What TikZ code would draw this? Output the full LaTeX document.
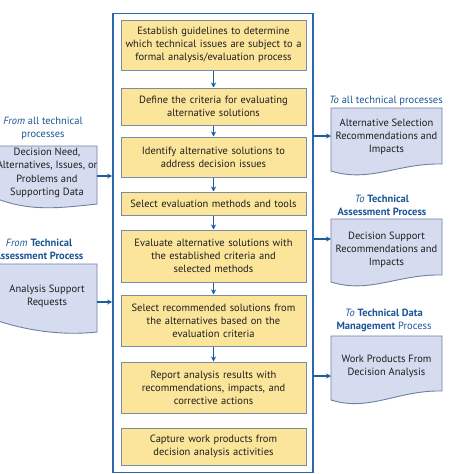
\documentclass[tikz,border=0pt]{standalone}
\usepackage{fontspec}
\setmainfont{PT Sans}
\usetikzlibrary{arrows.meta}
\definecolor{frameblue}{HTML}{2A67AC}
\definecolor{arrowblue}{HTML}{1F5C9E}
\definecolor{labelblue}{HTML}{1D5596}
\definecolor{boxfill}{HTML}{FBE59B}
\definecolor{boxline}{HTML}{7E8CA3}
\definecolor{docfill}{HTML}{D5DCF0}
\definecolor{docline}{HTML}{6F7FA6}
\definecolor{txt}{HTML}{1E1E1E}
\tikzset{
  stepbox/.style={draw=boxline, line width=1pt, fill=boxfill, minimum width=185pt,
    text width=183pt, align=center, inner sep=0pt, font=\fontsize{10.5}{13}\selectfont, text=txt},
  docnode/.style={inner sep=0pt, align=center, font=\fontsize{10.5}{13.3}\selectfont, text=txt},
  doclabel/.style={align=center, font=\fontsize{10.5}{13}\selectfont, text=labelblue},
  docbody/.style={fill=docfill, draw=docline, line width=0.9pt},
  arr/.style={draw=arrowblue, line width=1.1pt, -{Stealth[length=5pt,width=5pt]}},
}
% right-hand document: x0, x1, top, yleft, yright
\newcommand{\rdoc}[5]{%
  \filldraw[docbody]
    (#1,#3) -- (#2,#3) -- (#2,#5)
    .. controls ({#2-0.4*(#2-#1)},{#5-1}) and ({#1+0.35*(#2-#1)},{#4+12}) .. (#1,#4) -- cycle;}
\begin{document}
\begin{tikzpicture}[x=1pt,y=-1pt]
\useasboundingbox (0,0) rectangle (474,474);
\clip (0,0) rectangle (474,474);
\fill[white] (0,0) rectangle (474,474);
% outer frame
\node[draw=frameblue, line width=1.6pt, minimum width=200pt, minimum height=459pt, inner sep=0pt] (outer) at (213,243) {};
% steps
\node[stepbox, minimum height=50pt] (s1) at (213.5,45) {Establish guidelines to determine\\which technical issues are subject to a\\formal analysis/evaluation process};
\node[stepbox, minimum height=37pt] (s2) at (213.5,106.5) {Define the criteria for evaluating\\alternative solutions};
\node[stepbox, minimum height=40pt] (s3) at (213.5,157) {Identify alternative solutions to\\address decision issues};
\node[stepbox, minimum height=23pt] (s4) at (213.5,203.5) {Select evaluation methods and tools};
\node[stepbox, minimum height=52pt] (s5) at (213.5,256) {Evaluate alternative solutions with\\the established criteria and\\selected methods};
\node[stepbox, minimum height=51pt] (s6) at (213.5,320.5) {Select recommended solutions from\\the alternatives based on the\\evaluation criteria};
\node[stepbox, minimum height=51pt] (s7) at (213.5,387.5) {Report analysis results with\\recommendations, impacts, and\\corrective actions};
\node[stepbox, minimum height=37pt] (s8) at (213.5,446.5) {Capture work products from\\decision analysis activities};
\foreach \a/\b in {s1/s2,s2/s3,s3/s4,s4/s5,s5/s6,s6/s7}
  \draw[arr] (\a.south) -- (\b.north);
% left documents
\filldraw[docbody] (-5,146) -- (97,146) -- (97,204)
  .. controls (60,208) and (30,212) .. (-5,198) -- cycle;
\node[docnode] (dl1) at (47,173) {Decision Need,\\Alternatives, Issues, or\\Problems and\\Supporting Data};
\node[doclabel] (ll1) at (43,128.5) {\textit{From} all technical\\processes};
\filldraw[docbody] (-5,264) -- (97,264) -- (97,332)
  .. controls (60,336) and (25,330) .. (-5,320) -- cycle;
\node[docnode] (dl2) at (47,296) {Analysis Support\\Requests};
\node[doclabel] (ll2) at (39,249.5) {\textit{From} \textbf{Technical}\\\textbf{Assessment Process}};
% right documents
\rdoc{331}{442}{108}{171}{164}
\node[docnode] (dr1) at (386.5,137) {Alternative Selection\\Recommendations and\\Impacts};
\node[doclabel] (rl1) at (386,101) {\textit{To} all technical processes};
\rdoc{331}{442}{219}{282}{275}
\node[docnode] (dr2) at (386.5,250) {Decision Support\\Recommendations and\\Impacts};
\node[doclabel] (rl2) at (382,205.5) {\textit{To} \textbf{Technical}\\\textbf{Assessment Process}};
\rdoc{331}{442}{336}{400}{391}
\node[docnode] (dr3) at (386.5,366.5) {Work Products From\\Decision Analysis};
\node[doclabel] (rl3) at (384,320.5) {\textit{To} \textbf{Technical Data}\\\textbf{Management} Process};
% connectors
\draw[arr] (97,176) -- (outer.west |- 0,176);
\draw[arr] (97,302) -- (outer.west |- 0,302);
\draw[arr] (outer.east |- 0,136) -- (331,136);
\draw[arr] (outer.east |- 0,239) -- (331,239);
\draw[arr] (outer.east |- 0,376) -- (331,376);
\end{tikzpicture}
\end{document}
